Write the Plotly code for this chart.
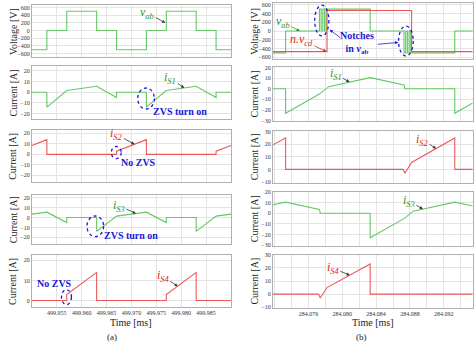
import plotly.graph_objects as go

# ---------------- (a) data : time [ms] / value ----------------
ta_vab = [499.950, 499.953, 499.953, 499.957, 499.957, 499.963, 499.963, 499.967, 499.967,
          499.973, 499.973, 499.977, 499.977, 499.983, 499.983, 499.987, 499.987, 499.990]
va_vab = [-500, -500, 0, 0, 500, 500, 0, 0, -500, -500, 0, 0, 500, 500, 0, 0, -500, -500]

ta_is1 = [499.950, 499.953, 499.953, 499.957, 499.963, 499.967, 499.967, 499.973, 499.973,
          499.977, 499.983, 499.987, 499.987, 499.990]
va_is1 = [0, 0, -14, 1.5, 5.5, -5, 0, 0, -14, 1.5, 5.5, -5, 0, 0]

ta_is2 = [499.950, 499.953, 499.953, 499.967, 499.967, 499.973, 499.973, 499.987, 499.987, 499.990]
va_is2 = [8.5, 14, 0, 0, 3, 14, 0, 0, 3, 8.5]

ta_is3 = [499.950, 499.953, 499.957, 499.957, 499.963, 499.963, 499.967, 499.973, 499.977,
          499.977, 499.983, 499.983, 499.987, 499.990]
va_is3 = [3.5, 5.5, -5, 0, 0, -14, 1.5, 5.5, -5, 0, 0, -14, 1.5, 3.5]

ta_is4 = [499.950, 499.957, 499.957, 499.963, 499.963, 499.977, 499.977, 499.983, 499.983, 499.990]
va_is4 = [0, 0, 3, 14, 0, 0, 3, 14, 0, 0]

# ---------------- (b) data ----------------
tb_vab = [284.0718, 284.0733, 284.0733, 284.0773, 284.0773, 284.0775, 284.0775, 284.0777, 284.0777,
          284.0779, 284.0779, 284.0781, 284.0781, 284.0833, 284.0833, 284.0873, 284.0873, 284.0875,
          284.0875, 284.0877, 284.0877, 284.0879, 284.0879, 284.0881, 284.0881, 284.0933, 284.0933,
          284.0955]
vb_vab = [-500, -500, 0, 0, 500, 500, 0, 0, 500, 500, 0, 0, 500, 500,
          0, 0, -500, -500, 0, 0, -500, -500, 0, 0, -500, -500, 0, 0]

tb_vcd = [284.0718, 284.0782, 284.0782, 284.0882, 284.0882, 284.0955]
vb_vcd = [-470, -470, 470, 470, -470, -470]

tb_is1 = [284.0718, 284.0733, 284.0733, 284.0773, 284.0784, 284.0833, 284.0873, 284.0874,
          284.0933, 284.0933, 284.0955]
vb_is1 = [0, 0, -23, -5, 2, 10.5, 3.7, 0, 0, -23, -13]

tb_is2 = [284.0718, 284.0733, 284.0733, 284.0872, 284.0874, 284.0882, 284.0933, 284.0933, 284.0955]
vb_is2 = [19.5, 25, 0, 0, -3, 5.5, 25, 0, 0]

tb_is3 = [284.0718, 284.0733, 284.0773, 284.0774, 284.0833, 284.0833, 284.0873, 284.0884,
          284.0933, 284.0955]
vb_is3 = [8, 10.5, 3.7, 0, 0, -23, -5, 2, 10.5, 6.8]

tb_is4 = [284.0718, 284.0772, 284.0774, 284.0782, 284.0833, 284.0833, 284.0955]
vb_is4 = [0, 0, -3, 5, 23, 0, 0]

# tick labels
ticks_a = [499.955, 499.960, 499.965, 499.970, 499.975, 499.980, 499.985]
ticks_b = [284.076, 284.080, 284.084, 284.088, 284.092]

W, H = 474, 351
def px(x): return x / W
def py(y): return 1 - y / H

GREEN = 'rgb(100,200,100)'
RED = 'rgb(236,88,88)'
GTXT = 'rgb(40,150,40)'
RTXT = 'rgb(225,30,30)'
BLUE = 'rgb(25,25,215)'
FONT = 'Liberation Serif'
GRID = '#e4e4e4'
LINE = '#b0b0b0'

# panel definitions: (col, top_px, bottom_px, yrange, yticks, ytitle)
panels = [
    (0, 2, 55, [-690, 665], [-600, -400, -200, 0, 200, 400, 600], 'Voltage [V]'),
    (0, 64, 118, [-25, 24.5], [-20, -10, 0, 10, 20], 'Current [A]'),
    (0, 129, 182, [-26.2, 23.4], [-20, -10, 0, 10, 20], 'Current [A]'),
    (0, 195, 245, [-26.7, 23.3], [-20, -10, 0, 10, 20], 'Current [A]'),
    (0, 256, 309.5, [-3.3, 22.8], [0, 10, 20], 'Current [A]'),
    (1, 0.5, 57, [-640, 630], [-600, -400, -200, 0, 200, 400, 600], 'Voltage [V]'),
    (1, 65, 120, [-30.3, 20.6], [-30, -20, -10, 0, 10, 20], 'Current [A]'),
    (1, 130, 183, [-10.7, 30.7], [-10, 0, 10, 20, 30], 'Current [A]'),
    (1, 192, 247, [-30.5, 20.3], [-30, -20, -10, 0, 10, 20], 'Current [A]'),
    (1, 256, 310, [-10.4, 30.2], [-10, 0, 10, 20, 30], 'Current [A]'),
]
xdom = [(32, 231.5), (273.5, 473.5)]
xrng = [[499.950, 499.990], [284.0718, 284.0954]]

traces = [
    (1, ta_vab, va_vab, GREEN), (2, ta_is1, va_is1, GREEN), (3, ta_is2, va_is2, RED),
    (4, ta_is3, va_is3, GREEN), (5, ta_is4, va_is4, RED),
    (6, tb_vab, vb_vab, GREEN), (6, tb_vcd, vb_vcd, RED), (7, tb_is1, vb_is1, GREEN),
    (8, tb_is2, vb_is2, RED), (9, tb_is3, vb_is3, GREEN), (10, tb_is4, vb_is4, RED),
]

fig = go.Figure()
for k, t, v, c in traces:
    fig.add_trace(go.Scatter(x=t, y=v, mode='lines', line=dict(color=c, width=1.1),
                             xaxis='x' if k == 1 else f'x{k}', yaxis='y' if k == 1 else f'y{k}',
                             showlegend=False, hoverinfo='skip'))

layout = dict(width=W, height=H, margin=dict(l=0, r=0, t=0, b=0),
              paper_bgcolor='white', plot_bgcolor='white', showlegend=False,
              font=dict(family=FONT, color='#222'))
annotations = []
tickfont = dict(family=FONT, size=6, color='#333')

def ptext(text, x, y, size, color='#222', angle=0):
    annotations.append(dict(text=text, x=px(x), y=py(y), xref='paper', yref='paper',
                            xanchor='center', yanchor='middle', textangle=angle,
                            showarrow=False, font=dict(family=FONT, size=size, color=color)))

for i, (col, top, bot, yr, yt, ytitle) in enumerate(panels):
    k = i + 1
    xs = '' if k == 1 else str(k)
    bottom_row = (i % 5 == 4)
    xa = dict(domain=[px(xdom[col][0]), px(xdom[col][1])], range=xrng[col],
              anchor='y' + xs, showline=True, mirror=True, linecolor=LINE, linewidth=1,
              showgrid=True, gridcolor=GRID, gridwidth=1, zeroline=False, ticks='',
              tickfont=tickfont, showticklabels=bottom_row)
    if col == 0:
        xa.update(tickmode='array', tickvals=ticks_a, ticktext=[f'{v:.3f}' for v in ticks_a])
    else:
        xa.update(tickmode='array', tickvals=ticks_b, ticktext=[f'{v:.3f}' for v in ticks_b],
                  minor=dict(tick0=284.074, dtick=0.002, showgrid=True, gridcolor=GRID,
                             gridwidth=1, ticks=''))
    ya = dict(domain=[py(bot), py(top)], range=yr, anchor='x' + xs, showline=True, mirror=True,
              linecolor=LINE, linewidth=1, showgrid=True, gridcolor=GRID, zeroline=False,
              ticks='', tickfont=tickfont, tickmode='array', tickvals=yt)
    layout['xaxis' + xs] = xa
    layout['yaxis' + xs] = ya
    tx = 13 if col == 0 else 255
    ptext(ytitle, tx, (top + bot) / 2, 10, angle=-90)

# axis titles and panel captions
ptext('Time [ms]', 131.7, 325, 10)
ptext('Time [ms]', 373.5, 325, 10)
ptext('(a)', 112, 340, 9)
ptext('(b)', 362, 340, 9)

def lab(k, x, y, text, color, ax, ay, acolor='#333'):
    xs = '' if k == 1 else str(k)
    annotations.append(dict(x=x, y=y, xref='x' + xs, yref='y' + xs, text=text, showarrow=True,
                            ax=ax, ay=ay, arrowhead=2, arrowsize=0.8, arrowwidth=0.8,
                            arrowcolor=acolor, font=dict(family=FONT, size=12, color=color)))

lab(1, 499.9768, 200, '<i>v</i><sub><i>ab</i></sub>', GTXT, -18, -10)
lab(2, 499.9806, 3.9, '<i>i</i><sub><i>S1</i></sub>', GTXT, -14, -10)
lab(3, 499.9706, 9.6, '<i>i</i><sub><i>S2</i></sub>', RTXT, -18, -10)
lab(4, 499.9709, 4.1, '<i>i</i><sub><i>S3</i></sub>', GTXT, -17, -8)
lab(5, 499.9793, 7.1, '<i>i</i><sub><i>S4</i></sub>', RTXT, -15, -10)
lab(6, 284.07498, 0, '<i>v</i><sub><i>ab</i></sub>', GTXT, -17, -9, GTXT)
lab(6, 284.07812, -470, '<i>n.v</i><sub><i>cd</i></sub>', RTXT, -25, -12, RTXT)
lab(7, 284.08086, 6.3, '<i>i</i><sub><i>S1</i></sub>', GTXT, -14, -8)
lab(8, 284.09109, 16.6, '<i>i</i><sub><i>S2</i></sub>', RTXT, -14, -9)
lab(9, 284.08953, 4, '<i>i</i><sub><i>S3</i></sub>', GTXT, -14, -8)
lab(10, 284.08089, 14.5, '<i>i</i><sub><i>S4</i></sub>', RTXT, -17, -7)

# blue notes
ptext('<b>ZVS turn on</b>', 180, 110.7, 10, BLUE)
ptext('<b>No ZVS</b>', 139, 162.7, 10, BLUE)
ptext('<b>ZVS turn on</b>', 131, 237, 10, BLUE)
ptext('<b>No ZVS</b>', 55, 285, 10, BLUE)
ptext('<b>Notches<br>in <i>v</i><sub>ab</sub></b>', 358, 41, 10, BLUE)
for x, y, ax, ay in [(284.07851, 30, 12, 9), (284.08662, -260, -22, 2)]:
    annotations.append(dict(x=x, y=y, xref='x6', yref='y6', text='', showarrow=True, ax=ax, ay=ay,
                            arrowhead=2, arrowsize=0.8, arrowwidth=0.8, arrowcolor=BLUE))

# dotted ellipses
shapes = []
for k, x0, x1, y0, y1 in [(2, 499.97126, 499.97460, -15.7, 3.9), (3, 499.96594, 499.96794, -4, 7.5),
                          (4, 499.96106, 499.96440, -19.4, 1.6), (5, 499.95594, 499.95794, -2, 5.4),
                          (6, 284.07674, 284.07842, -111, 591), (6, 284.08666, 284.08839, -571, 111)]:
    xs = '' if k == 1 else str(k)
    shapes.append(dict(type='circle', xref='x' + xs, yref='y' + xs, x0=x0, x1=x1, y0=y0, y1=y1,
                       line=dict(color=BLUE, width=1.3, dash='dot')))

layout['annotations'] = annotations
layout['shapes'] = shapes
fig.update_layout(**layout)
fig.write_html('out.html')
